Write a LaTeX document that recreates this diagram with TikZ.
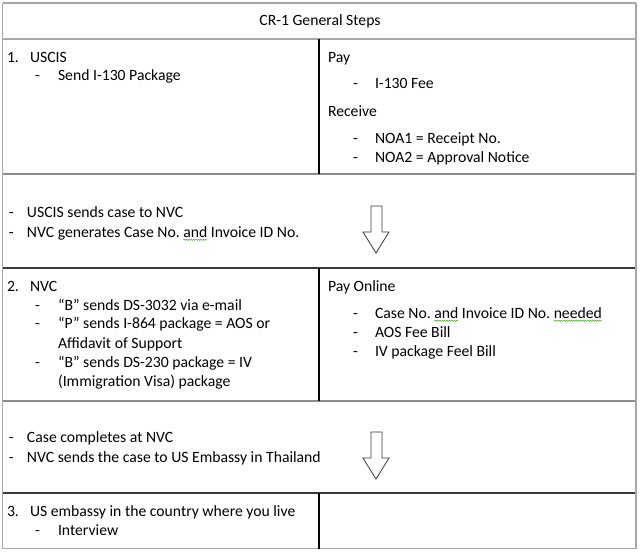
\documentclass[tikz,border=0pt]{standalone}
\usepackage{fontspec}
\setmainfont{Carlito}
\usetikzlibrary{decorations.pathmorphing}
\frenchspacing
\definecolor{framegray}{HTML}{A8A8A8}
\definecolor{midgray}{HTML}{8C8C8C}
\definecolor{darkline}{HTML}{3A3A3A}
\definecolor{squiggreen}{HTML}{5AAA3C}
\newcommand\squig[1]{\tikz[baseline=(sqw.base)]{\node[inner sep=0pt,outer sep=0pt](sqw){#1};\draw[overlay,squiggreen,line width=0.6pt,decorate,decoration={snake,amplitude=0.55pt,segment length=2.4pt}] ([yshift=-2.8pt]sqw.base west) -- ([yshift=-2.8pt]sqw.base east);}}
\begin{document}
\begin{tikzpicture}[x=1pt,y=-1pt,
  txt/.style={anchor=base west,inner sep=0pt,outer sep=0pt,font=\fontsize{15.7}{18}\selectfont},
  frame/.style={draw=framegray,line width=1.8pt},
  hgray/.style={draw=midgray,line width=1.3pt},
  hdark/.style={draw=darkline,line width=1.3pt},
  vdiv/.style={draw=black,line width=1.2pt},
  blockarrow/.style={draw=darkline,line width=0.8pt,fill=white,line join=miter}]
\useasboundingbox (0,0) rectangle (640,552);
\fill[white] (0,0) rectangle (640,552);
% row lines
\draw[frame] (2.5,3) -- (636,3);
\draw[frame] (2.5,39) -- (636,39);
\draw[hgray] (2.5,174) -- (636,174);
\draw[hdark] (2.5,268) -- (636,268);
\draw[hgray] (2.5,401) -- (636,401);
\draw[hdark] (2.5,493) -- (636,493);
\draw[frame] (2.5,548.5) -- (636,548.5);
% vertical dividers
\draw[vdiv] (319,39) -- (319,174);
\draw[vdiv] (319,268) -- (319,401);
\draw[vdiv] (319,493) -- (319,548.5);
% outer sides
\draw[frame] (2.5,3) -- (2.5,548.5);
\draw[frame] (636,3) -- (636,548.5);
% title
\node[txt,anchor=base] (title) at (320,25) {CR-1 General Steps};
% row 1 left
\node[txt] (n1) at (7,62) {1.};
\node[txt] (uscis) at (30,62) {USCIS};
\node[txt] (d1) at (35,80) {-};
\node[txt] (send) at (58,80) {Send I-130 Package};
% row 1 right
\node[txt] (pay) at (328,62) {Pay};
\node[txt] (d2) at (353,88) {-};
\node[txt] (fee) at (375,88) {I-130 Fee};
\node[txt] (recv) at (328,116) {Receive};
\node[txt] (d3) at (353,143) {-};
\node[txt] (noa1) at (375,143) {NOA1 = Receipt No.};
\node[txt] (d4) at (353,162) {-};
\node[txt] (noa2) at (375,162) {NOA2 = Approval Notice};
% row 2
\node[txt] (d5) at (9,217) {-};
\node[txt] (r2a) at (27,217) {USCIS sends case to NVC};
\node[txt] (d6) at (9,237) {-};
\node[txt] (r2b) at (27,237) {NVC generates Case No. \squig{and} Invoice ID No.};
\draw[blockarrow] (371,206) -- (382,206) -- (382,232) -- (389,232) -- (376,253) -- (363,232) -- (371,232) -- cycle;
% row 3 left
\node[txt] (n2) at (7,291) {2.};
\node[txt] (nvc) at (30,291) {NVC};
\node[txt] (d7) at (35,310) {-};
\node[txt] (b1) at (58,310) {“B” sends DS-3032 via e-mail};
\node[txt] (d8) at (35,328) {-};
\node[txt] (p1) at (58,328) {“P” sends I-864 package = AOS or};
\node[txt] (p2) at (58,348) {Affidavit of Support};
\node[txt] (d9) at (35,367) {-};
\node[txt] (b2) at (58,367) {“B” sends DS-230 package = IV};
\node[txt] (b3) at (58,386) {(Immigration Visa) package};
% row 3 right
\node[txt] (payo) at (328,291) {Pay Online};
\node[txt] (d10) at (353,318) {-};
\node[txt] (cn) at (375,318) {Case No. \squig{and} Invoice ID No. \squig{needed}};
\node[txt] (d11) at (353,337) {-};
\node[txt] (aos) at (375,337) {AOS Fee Bill};
\node[txt] (d12) at (353,356) {-};
\node[txt] (iv) at (375,356) {IV package Feel Bill};
% row 4
\node[txt] (d13) at (9,442) {-};
\node[txt] (r4a) at (27,442) {Case completes at NVC};
\node[txt] (d14) at (9,462) {-};
\node[txt] (r4b) at (27,462) {NVC sends the case to US Embassy in Thailand};
\draw[blockarrow] (371,432) -- (382,432) -- (382,458) -- (389,458) -- (376,479) -- (363,458) -- (371,458) -- cycle;
% row 5
\node[txt] (n3) at (7,516) {3.};
\node[txt] (emb) at (30,516) {US embassy in the country where you live};
\node[txt] (d15) at (35,535) {-};
\node[txt] (intv) at (58,535) {Interview};
\end{tikzpicture}
\end{document}
